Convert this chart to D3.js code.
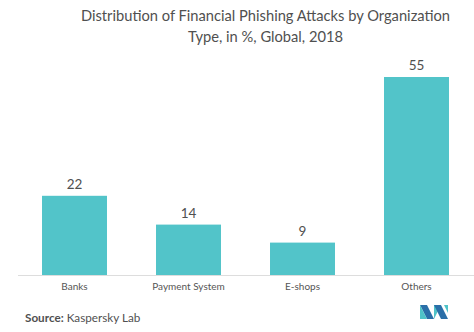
<!DOCTYPE html>
<html><head><meta charset="utf-8">
<script src="https://cdn.jsdelivr.net/npm/d3@7"></script>
<style>
html,body{margin:0;padding:0;background:#fff;}
svg{display:block;font-family:Lato, "Open Sans", sans-serif;}
</style></head>
<body><svg id="c" width="474" height="332"></svg>
<script>
const categories = ["Banks", "Payment System", "E-shops", "Others"];
const values = [22, 14, 9, 55];
const titleLines = ["Distribution of Financial Phishing Attacks by Organization", "Type, in %, Global, 2018"];
const sourceLabel = "Source:";
const sourceText = " Kaspersky Lab";

const svg = d3.select("#c");
const baseY = 275;
const x = d3.scaleBand().domain(categories).range([17.5, 473.5]).paddingInner(0.43).paddingOuter(0.215);
const y = d3.scaleLinear().domain([0, 55]).range([baseY, 77]);

// title
svg.append("g").selectAll("text").data(titleLines).join("text")
  .attr("x", 265.5).attr("y", (d, i) => 21 + i * 21)
  .attr("text-anchor", "middle").attr("fill", "#505050").attr("font-size", 14.7)
  .text(d => d);

// axis line
svg.append("line").attr("x1", 18).attr("x2", 474).attr("y1", baseY + 0.5).attr("y2", baseY + 0.5)
  .attr("stroke", "#ddd").attr("stroke-width", 1);

// bars
svg.append("g").selectAll("rect").data(values).join("rect")
  .attr("x", (d, i) => x(categories[i])).attr("width", x.bandwidth())
  .attr("y", d => y(d)).attr("height", d => baseY - y(d))
  .attr("fill", "#52c4c9");

// value labels
svg.append("g").selectAll("text").data(values).join("text")
  .attr("x", (d, i) => x(categories[i]) + x.bandwidth() / 2)
  .attr("y", d => y(d) - 7)
  .attr("text-anchor", "middle").attr("fill", "#505050").attr("font-size", 13.5)
  .text(d => d);

// category labels
const xAxis = d3.axisBottom(x).tickSize(0).tickPadding(0);
const gx = svg.append("g").attr("transform", `translate(0,${baseY})`).call(xAxis);
gx.select(".domain").remove();
gx.selectAll("text").attr("dy", 0).attr("y", 15).attr("fill", "#555").attr("font-size", 10)
  .attr("font-family", "Lato, 'Open Sans', sans-serif");

// source
const st = svg.append("text").attr("x", 25).attr("y", 322).attr("fill", "#505050").attr("font-size", 11.7);
st.append("tspan").attr("font-weight", "bold").text(sourceLabel);
st.append("tspan").text(sourceText);

// logo
const lg = svg.append("g").attr("transform", "translate(420,305)");
lg.append("polygon").attr("points", "0,0 7,0 14,14 7,14").attr("fill", "#2a6fa8");
lg.append("polygon").attr("points", "0,0 7,14 0,14").attr("fill", "#4fc3c8");
lg.append("polygon").attr("points", "14,14 14,0 21,0").attr("fill", "#4fc3c8");
lg.append("polygon").attr("points", "14,0 21,0 28,14 21,14").attr("fill", "#2a6fa8");
lg.append("polygon").attr("points", "24,0 28,0 28,8").attr("fill", "#4fc3c8");
</script></body></html>
